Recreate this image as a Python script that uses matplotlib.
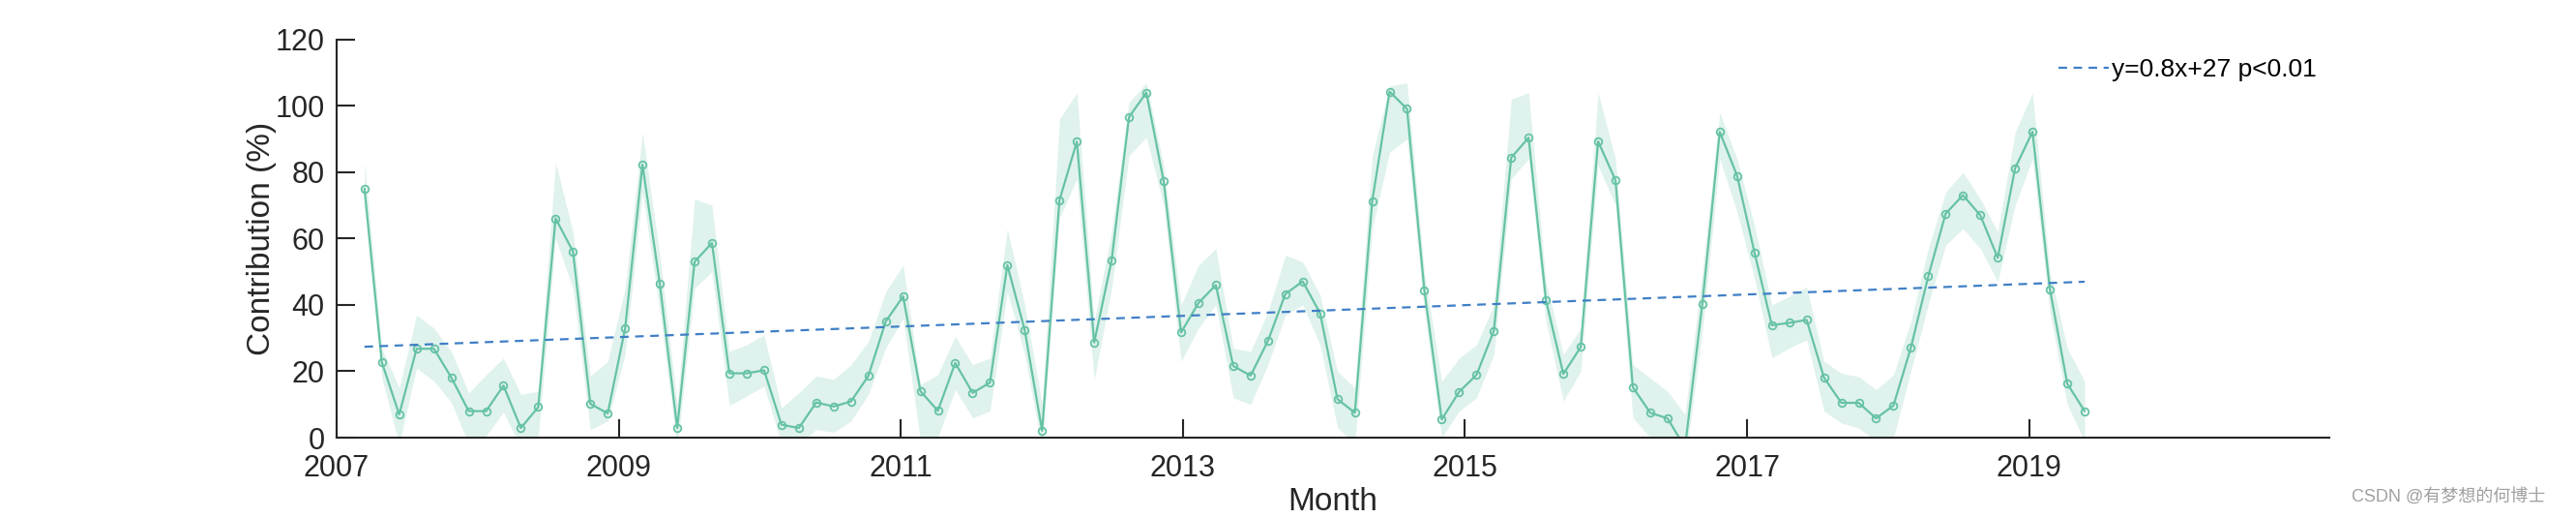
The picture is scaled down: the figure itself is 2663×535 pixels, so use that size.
import numpy as np
import matplotlib
matplotlib.use("Agg")
import matplotlib.pyplot as plt

plt.rcParams['font.family'] = ['Liberation Sans', 'Noto Sans CJK SC', 'DejaVu Sans']

# ---------------- data ----------------
x_start = 2007.197   # first sample (decimal year)
x_step = 0.1232      # ~45 days between samples

contribution = [
    75.0, 22.7, 7.0, 26.8, 26.8, 18.1, 8.0, 8.0, 15.7, 2.9,
    9.2, 66.1, 56.1, 10.2, 7.3, 32.9, 82.3, 46.3, 2.9, 53.0,
    58.7, 19.4, 19.4, 20.3, 3.9, 2.9, 10.6, 9.4, 10.9, 18.6,
    35.0, 42.6, 14.0, 8.1, 22.5, 13.5, 16.6, 52.0, 32.4, 2.1,
    71.6, 89.2, 28.7, 53.4, 96.6, 104.0, 77.2, 31.7, 40.6, 46.0,
    21.6, 18.7, 29.2, 43.3, 47.1, 37.5, 11.6, 7.5, 71.3, 104.3,
    99.1, 44.5, 5.5, 13.8, 18.9, 32.2, 84.4, 90.4, 41.4, 19.2,
    27.3, 89.3, 77.6, 15.2, 7.5, 5.8, -3.0, 40.4, 92.2, 78.9,
    55.8, 33.9, 34.6, 35.5, 18.1, 10.5, 10.5, 5.8, 9.7, 27.1,
    48.6, 67.5, 73.1, 67.0, 54.2, 81.2, 92.2, 44.8, 16.3, 8.0,
]

upper = [
    83, 27, 15, 37, 33, 26, 13.5, 19, 24, 13,
    14, 83, 62, 18.6, 23, 45, 92, 55, 10, 72,
    70, 26, 28, 31, 9, 13.5, 18.6, 17.6, 22, 29,
    44, 52, 16, 19, 30.5, 22, 24, 63, 40, 10,
    96, 104, 35, 62, 101, 107, 82, 40, 52, 57,
    27, 26, 38, 55, 53, 43, 20, 15, 85, 106,
    107, 50, 17, 24, 28, 40, 102, 104, 47, 25,
    33, 104, 84, 22, 18, 14, 7, 50, 98, 84,
    64, 40, 42.6, 45.5, 23, 19.4, 18.4, 14.5, 19, 35,
    57, 74, 80, 72, 62, 92, 104, 50, 27, 17,
]

lower = [
    70, 18, -2, 21, 17, 10.6, -2, 0.5, 7.7, -3,
    0, 60, 45, 2.4, 5, 25, 74, 38, -3, 45,
    50, 9.7, 12.6, 15.5, -2, -2, 2.5, 1.6, 5, 13,
    27, 36, -1, 0, 14.5, 6, 8, 44, 25, -3,
    66, 78, 17.4, 45, 85, 90.5, 70, 23, 33, 40,
    12, 10, 22, 37, 40, 28, 3, -2, 63, 86,
    90, 38, 0, 8, 12, 25, 78, 84, 35, 11,
    20, 82, 70, 6, 0, -2, -8, 32, 84, 68,
    48, 24, 27, 29.5, 8, 4.4, 2.9, -1, 0, 20,
    40, 58, 63, 57, 47, 70, 84, 38, 10, -1,
]

trend_start = 27.4
trend_end = 47.0
trend_label = "y=0.8x+27 p<0.01"

year_ticks = [2007, 2009, 2011, 2013, 2015, 2017, 2019]
y_ticks = [0, 20, 40, 60, 80, 100, 120]

# ---------------- figure ----------------
n = len(contribution)
x = x_start + x_step * np.arange(n)

fig = plt.figure(figsize=(26.63, 5.35), dpi=100)
ax = fig.add_axes([0.1307, 0.1551, 0.7736, 0.7686])

green = '#66c2a5'
ax.fill_between(x, lower, upper, color=green, alpha=0.2, linewidth=0)
ax.plot(x, contribution, color=green, lw=1.6, marker='o', ms=5.5,
        mfc='none', mec=green, mew=1.3)
ax.plot([x[0], x[-1]], [trend_start, trend_end], color='#3f7fc6',
        lw=1.6, dashes=(4, 3), label=trend_label)

ax.set_xlim(2007, 2021.13)
ax.set_ylim(0, 120)
ax.set_xticks(year_ticks)
ax.set_xticklabels([str(t) for t in year_ticks])
ax.set_yticks(y_ticks)

for s in ['top', 'right']:
    ax.spines[s].set_visible(False)
for s in ['left', 'bottom']:
    ax.spines[s].set_color('#262626')
    ax.spines[s].set_linewidth(1.5)

ax.tick_params(axis='both', direction='in', length=14, width=1.5,
               colors='#262626', labelsize=22, pad=9)
ax.tick_params(axis='x', pad=12)

ax.set_ylabel('Contribution (%)', fontsize=24, color='#262626')
ax.set_xlabel('Month', fontsize=24, color='#262626')
ax.yaxis.set_label_coords(-0.03, 0.5)
ax.xaxis.set_label_coords(0.5, -0.125)

leg = ax.legend(loc='upper right', bbox_to_anchor=(1.005, 1.01), frameon=False,
                fontsize=19, handlelength=2.0, handletextpad=0.1)

fig.text(0.988, 0.025, 'CSDN @有梦想的何博士', ha='right', va='bottom',
         fontsize=13, color='#a0a0a0')

fig.savefig('out.png', dpi=100)
